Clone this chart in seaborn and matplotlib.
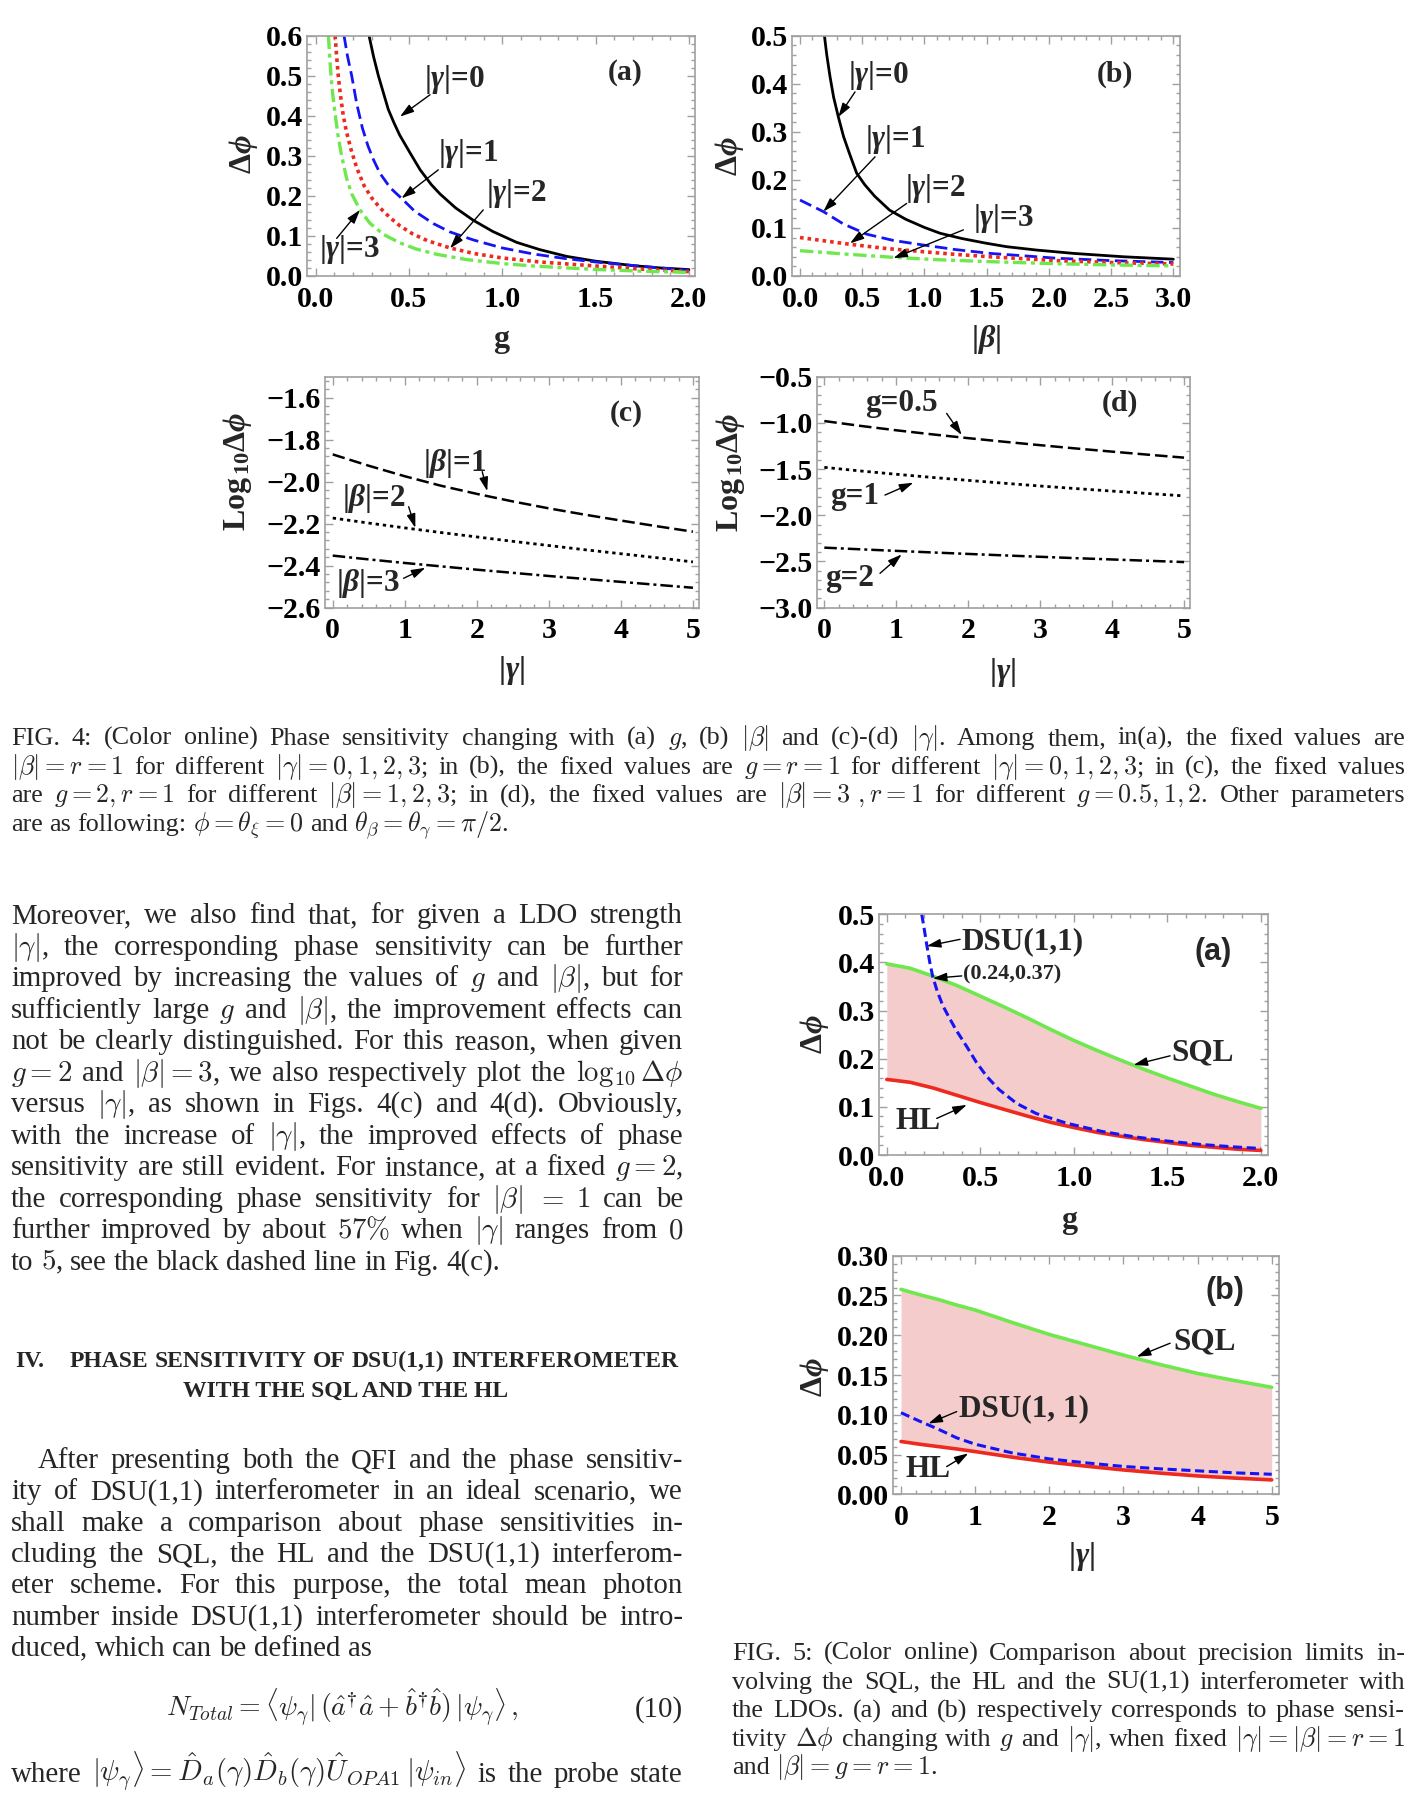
import re
import matplotlib
matplotlib.use('Agg')
import matplotlib.pyplot as plt
from matplotlib.ticker import MultipleLocator, FuncFormatter
from matplotlib.transforms import IdentityTransform
import seaborn as sns

# ---------------- data ----------------
# Fig 4(a): delta phi vs g for |gamma| = 0,1,2,3
g_a0 = [0.286, 0.31, 0.336, 0.36, 0.389, 0.42, 0.45, 0.505, 0.56, 0.62, 0.666, 0.75,
        0.845, 0.95, 1.077, 1.2, 1.345, 1.5, 1.7, 1.85, 2.0]
d_a0 = [0.600, 0.548, 0.500, 0.462, 0.416, 0.382, 0.352, 0.308, 0.265, 0.228, 0.205, 0.170,
        0.139, 0.111, 0.084, 0.066, 0.049, 0.037, 0.026, 0.020, 0.016]
g_a1 = [0.152, 0.17, 0.193, 0.22, 0.25, 0.28, 0.31, 0.345, 0.4, 0.46, 0.53, 0.63, 0.72,
        0.845, 1.0, 1.166, 1.33, 1.52, 1.75, 2.0]
d_a1 = [0.600, 0.550, 0.500, 0.430, 0.370, 0.325, 0.290, 0.256, 0.220, 0.194, 0.162, 0.131, 0.110,
        0.090, 0.070, 0.055, 0.044, 0.034, 0.024, 0.014]
g_a2 = [0.104, 0.112, 0.121, 0.133, 0.148, 0.165, 0.19, 0.22, 0.26, 0.3, 0.345, 0.4, 0.452,
        0.52, 0.6, 0.72, 0.85, 1.0, 1.2, 1.5, 1.75, 2.0]
d_a2 = [0.600, 0.550, 0.500, 0.450, 0.400, 0.360, 0.315, 0.270, 0.225, 0.195, 0.170, 0.145, 0.125,
        0.105, 0.088, 0.070, 0.056, 0.045, 0.035, 0.025, 0.017, 0.011]
g_a3 = [0.068, 0.075, 0.082, 0.092, 0.104, 0.12, 0.139, 0.165, 0.193, 0.2375, 0.29, 0.3625,
        0.45, 0.541, 0.65, 0.809, 1.0, 1.166, 1.35, 1.52, 1.75, 2.0]
d_a3 = [0.600, 0.550, 0.500, 0.450, 0.405, 0.350, 0.300, 0.245, 0.205, 0.165, 0.132, 0.104,
        0.083, 0.067, 0.054, 0.041, 0.031, 0.025, 0.020, 0.016, 0.012, 0.009]

# Fig 4(b): delta phi vs |beta|
b_b0 = [0.196, 0.215, 0.241, 0.27, 0.308, 0.35, 0.4, 0.455, 0.52, 0.6, 0.72, 0.85, 1.0,
        1.125, 1.3, 1.5, 1.66, 1.9, 2.2, 2.6, 3.0]
d_b0 = [0.500, 0.460, 0.415, 0.372, 0.331, 0.290, 0.253, 0.214, 0.190, 0.166, 0.137, 0.118, 0.101,
        0.089, 0.078, 0.068, 0.061, 0.054, 0.047, 0.040, 0.035]
b_b1 = [0.0, 0.1875, 0.35, 0.536, 0.75, 0.99, 1.25, 1.53, 1.8, 2.06, 2.5, 3.0]
d_b1 = [0.158, 0.134, 0.108, 0.087, 0.074, 0.0645, 0.055, 0.047, 0.042, 0.037, 0.032, 0.028]
b_b2 = [0.0, 0.4, 0.7, 0.99, 1.25, 1.53, 2.06, 2.5, 3.0]
d_b2 = [0.080, 0.066, 0.057, 0.0506, 0.045, 0.040, 0.032, 0.028, 0.025]
b_b3 = [0.0, 0.4, 0.75, 1.1, 1.53, 2.0, 2.5, 3.0]
d_b3 = [0.0527, 0.045, 0.0388, 0.034, 0.0298, 0.026, 0.023, 0.021]

# Fig 4(c)/(d): log10 delta phi vs |gamma|
gam = [0.0, 0.5, 1.0, 1.5, 2.0, 2.5, 3.0, 3.5, 4.0, 4.5, 5.0]
c_beta1 = [-1.870, -1.924, -1.974, -2.019, -2.058, -2.094, -2.127, -2.157, -2.185, -2.212, -2.238]
c_beta2 = [-2.173, -2.197, -2.220, -2.242, -2.263, -2.284, -2.304, -2.324, -2.343, -2.362, -2.382]
c_beta3 = [-2.352, -2.370, -2.387, -2.403, -2.419, -2.434, -2.449, -2.463, -2.477, -2.491, -2.505]
d_g05 = [-0.980, -1.032, -1.080, -1.124, -1.165, -1.204, -1.241, -1.277, -1.311, -1.344, -1.376]
d_g1 = [-1.481, -1.520, -1.556, -1.590, -1.622, -1.653, -1.683, -1.711, -1.738, -1.764, -1.790]
d_g2 = [-2.350, -2.368, -2.385, -2.402, -2.418, -2.434, -2.449, -2.464, -2.478, -2.492, -2.506]

# Fig 5(a): SQL, HL, DSU(1,1) vs g
g5 = [0.0, 0.125, 0.25, 0.375, 0.5, 0.625, 0.75, 0.875, 1.0, 1.125, 1.25, 1.375, 1.5,
      1.625, 1.75, 1.875, 2.0]
sql_a = [0.397, 0.388, 0.371, 0.352, 0.330, 0.308, 0.285, 0.261, 0.238, 0.217, 0.197, 0.178,
         0.160, 0.143, 0.126, 0.111, 0.097]
hl_a = [0.157, 0.151, 0.139, 0.124, 0.109, 0.095, 0.081, 0.068, 0.057, 0.047, 0.039, 0.032,
        0.026, 0.020, 0.016, 0.012, 0.0095]
g5_dsu = [0.187, 0.2, 0.214, 0.23, 0.246, 0.27, 0.3, 0.33, 0.37, 0.428, 0.48, 0.535, 0.6,
          0.695, 0.8, 0.9626, 1.15, 1.32, 1.5, 1.676, 1.85, 2.0]
dsu_a = [0.500, 0.470, 0.436, 0.400, 0.370, 0.340, 0.310, 0.288, 0.260, 0.225, 0.192, 0.163,
         0.136, 0.107, 0.086, 0.066, 0.049, 0.038, 0.029, 0.022, 0.017, 0.0135]

# Fig 5(b): SQL, HL, DSU(1,1) vs |gamma|
gam5 = [0.0, 0.25, 0.5, 0.75, 1.0, 1.5, 2.0, 2.5, 3.0, 3.5, 4.0, 4.5, 5.0]
sql_b = [0.2577, 0.251, 0.245, 0.238, 0.2317, 0.216, 0.201, 0.188, 0.175, 0.163, 0.152, 0.143, 0.1345]
hl_b = [0.0664, 0.063, 0.060, 0.057, 0.0537, 0.0467, 0.0404, 0.0353, 0.0306, 0.0266, 0.0231, 0.0204, 0.0181]
dsu_b = [0.1026, 0.092, 0.082, 0.071, 0.063, 0.052, 0.0445, 0.0395, 0.035, 0.032, 0.0295, 0.027, 0.0252]

# ---------------- style ----------------
sns.set_style('white')
plt.rcParams.update({
    'mathtext.fontset': 'custom',
    'mathtext.rm': 'Liberation Serif:bold',
    'mathtext.it': 'Liberation Serif:italic:bold',
    'mathtext.bf': 'Liberation Serif:bold',
    'font.weight': 'bold',
    'axes.edgecolor': '#a0a0a0',
    'axes.linewidth': 1.2,
})
plt.rcParams['font.family'] = ['Liberation Serif', 'DejaVu Serif']

W, H = 1424, 1794
fig = plt.figure(figsize=(W / 100, H / 100), dpi=100)

BLUE = '#1414f5'
RED = '#ee2a1e'
GREEN = '#6fe84e'
PINK = '#f5cccc'


def box(l, t, r, b):
    return [l / W, 1 - b / H, (r - l) / W, (b - t) / H]


def fmt(d):
    def f(v, p):
        s = f'{v:.{d}f}'
        if float(s) == 0:
            s = s.lstrip('-')
        return s.replace('-', '\u2212')
    return FuncFormatter(f)


def frame(ax, xlim, ylim, xmaj, xmin, ymaj, ymin, xd, yd):
    ax.set_xlim(*xlim)
    ax.set_ylim(*ylim)
    ax.xaxis.set_major_locator(MultipleLocator(xmaj))
    ax.xaxis.set_minor_locator(MultipleLocator(xmin))
    ax.yaxis.set_major_locator(MultipleLocator(ymaj))
    ax.yaxis.set_minor_locator(MultipleLocator(ymin))
    ax.xaxis.set_major_formatter(fmt(xd))
    ax.yaxis.set_major_formatter(fmt(yd))
    ax.tick_params(which='both', direction='in', top=True, right=True, bottom=True, left=True,
                   color='#a0a0a0', width=1, labelsize=21.5, labelcolor='black')
    ax.tick_params(which='major', length=6)
    ax.tick_params(which='minor', length=3)
    ax.tick_params(axis='x', pad=7)
    ax.tick_params(axis='y', pad=3)


def labels(ax, xl, yl, xpos, ypos, size=23):
    ax.set_xlabel(xl, fontsize=size, fontweight='bold')
    ax.set_ylabel(yl, fontsize=size, fontweight='bold')
    ax.xaxis.set_label_coords(*xpos)
    ax.yaxis.set_label_coords(*ypos)
    ax.xaxis.label.set_va('center')
    ax.yaxis.label.set_va('center')


def note(ax, s, pos, tail, tip, size=22.5, ha='center', **kw):
    ax.text(pos[0], pos[1], s, fontsize=size, ha=ha, va='center', fontweight='bold', **kw)
    ax.annotate('', xy=tip, xytext=tail,
                arrowprops=dict(arrowstyle='-|>,head_length=0.7,head_width=0.22', color='black',
                                lw=1.0, shrinkA=0, shrinkB=0, mutation_scale=12))


def line(ax, x, y, color, ls, lw):
    sns.lineplot(x=x, y=y, ax=ax, color=color, linestyle=ls, linewidth=lw,
                 errorbar=None, sort=False)


DASH = (0, (4.5, 2))
DOT = (0, (1.0, 1.1))
DASHDOT = (0, (4, 1.4, 1.2, 1.4))

# ---------------- Fig 4(a) ----------------
ax = fig.add_axes(box(307.3, 35.7, 695, 276))
line(ax, g_a0, d_a0, 'black', '-', 2.0)
line(ax, g_a1, d_a1, BLUE, DASH, 2.0)
line(ax, g_a2, d_a2, RED, DOT, 2.6)
line(ax, g_a3, d_a3, GREEN, DASHDOT, 2.4)
frame(ax, (-0.045, 2.033), (0, 0.6), 0.5, 0.1, 0.1, 0.02, 1, 1)
labels(ax, 'g', 'Δ$\\phi$', (0.5, -0.266), (-0.165, 0.508))
note(ax, r'$|\gamma|$=0', (0.746, 0.49), (0.6125, 0.4525), (0.452, 0.398))
note(ax, r'$|\gamma|$=1', (0.818, 0.307), (0.657, 0.265), (0.46, 0.194))
note(ax, r'$|\gamma|$=2', (1.077, 0.205), (0.898, 0.165), (0.72, 0.069))
note(ax, r'$|\gamma|$=3', (0.184, 0.065), (0.1125, 0.094), (0.2375, 0.165))
ax.text(1.657, 0.507, '(a)', fontsize=21.5, ha='center', va='center')

# ---------------- Fig 4(b) ----------------
ax = fig.add_axes(box(792.3, 35.7, 1180.3, 276))
line(ax, b_b0, d_b0, 'black', '-', 2.0)
line(ax, b_b1, d_b1, BLUE, DASH, 2.0)
line(ax, b_b2, d_b2, RED, DOT, 2.6)
line(ax, b_b3, d_b3, GREEN, DASHDOT, 2.4)
frame(ax, (-0.062, 3.056), (0, 0.5), 0.5, 0.1, 0.1, 0.02, 1, 1)
labels(ax, r'$|\beta|$', 'Δ$\\phi$', (0.499, -0.266), (-0.163, 0.5))
note(ax, r'$|\gamma|$=0', (0.63, 0.418), (0.442, 0.383), (0.308, 0.331))
note(ax, r'$|\gamma|$=1', (0.763, 0.283), (0.603, 0.248), (0.1875, 0.134))
note(ax, r'$|\gamma|$=2', (1.085, 0.182), (0.857, 0.151), (0.402, 0.068))
note(ax, r'$|\gamma|$=3', (1.634, 0.12), (1.313, 0.096), (0.75, 0.037))
ax.text(2.53, 0.42, '(b)', fontsize=21.5, ha='center', va='center')

# ---------------- Fig 4(c) ----------------
ax = fig.add_axes(box(325.3, 376.7, 699, 607.7))
line(ax, gam, c_beta1, 'black', (0, (5, 2)), 1.8)
line(ax, gam, c_beta2, 'black', (0, (1.2, 1.4)), 2.0)
line(ax, gam, c_beta3, 'black', (0, (5, 1.6, 1.2, 1.6)), 1.8)
frame(ax, (-0.103, 5.084), (-2.6, -1.5), 1, 0.2, 0.2, 0.04, 0, 1)
labels(ax, r'$|\gamma|$', r'Log$_{\,10}$Δ$\phi$', (0.497, -0.274), (-0.234, 0.59))
note(ax, r'$|\beta|$=1', (1.70, -1.913), (2.075, -1.952), (2.145, -2.045))
note(ax, r'$|\beta|$=2', (0.566, -2.079), (1.054, -2.119), (1.147, -2.22))
note(ax, r'$|\beta|$=3', (0.497, -2.484), (0.984, -2.46), (1.286, -2.41))
ax.text(4.07, -1.675, '(c)', fontsize=21.5, ha='center', va='center')

# ---------------- Fig 4(d) ----------------
ax = fig.add_axes(box(816.7, 376.7, 1190, 607.7))
line(ax, gam, d_g05, 'black', (0, (5, 2)), 1.8)
line(ax, gam, d_g1, 'black', (0, (1.2, 1.4)), 2.0)
line(ax, gam, d_g2, 'black', (0, (5, 1.6, 1.2, 1.6)), 1.8)
frame(ax, (-0.106, 5.083), (-3.0, -0.5), 1, 0.2, 0.5, 0.1, 0, 1)
labels(ax, r'$|\gamma|$', r'Log$_{\,10}$Δ$\phi$', (0.499, -0.28), (-0.232, 0.587))
note(ax, 'g=0.5', (1.075, -0.789), (1.70, -0.897), (1.909, -1.131))
note(ax, 'g=1', (0.426, -1.799), (0.843, -1.781), (1.237, -1.647))
note(ax, 'g=2', (0.357, -2.683), (0.774, -2.628), (1.075, -2.423))
ax.text(4.11, -0.789, '(d)', fontsize=21.5, ha='center', va='center')

# ---------------- Fig 5(a) ----------------
ax = fig.add_axes(box(879.3, 914.3, 1268.3, 1155))
ax.fill_between(g5, hl_a, sql_a, color=PINK, linewidth=0)
line(ax, g5, sql_a, GREEN, '-', 2.6)
line(ax, g5, hl_a, RED, '-', 2.6)
line(ax, g5_dsu, dsu_a, BLUE, (0, (3, 1.5)), 2.2)
frame(ax, (-0.04, 2.04), (0, 0.5), 0.5, 0.1, 0.1, 0.02, 1, 1)
labels(ax, 'g', 'Δ$\\phi$', (0.489, -0.272), (-0.167, 0.5))
note(ax, 'DSU(1,1)', (0.401, 0.443), (0.392, 0.448), (0.214, 0.434), ha='left')
note(ax, '(0.24,0.37)', (0.41, 0.374), (0.401, 0.372), (0.246, 0.367), size=16, ha='left')
note(ax, 'SQL', (1.524, 0.211), (1.515, 0.206), (1.319, 0.187), ha='left')
note(ax, 'HL', (0.169, 0.069), (0.267, 0.076), (0.428, 0.104))
ax.text(1.747, 0.422, '(a)', fontsize=22, ha='center', va='center', family='Liberation Sans')

# ---------------- Fig 5(b) ----------------
ax = fig.add_axes(box(893.3, 1255.7, 1279, 1494.3))
ax.fill_between(gam5, hl_b, sql_b, color=PINK, linewidth=0)
line(ax, gam5, sql_b, GREEN, '-', 2.6)
line(ax, gam5, hl_b, RED, '-', 2.6)
line(ax, gam5, dsu_b, BLUE, (0, (3, 1.5)), 2.2)
frame(ax, (-0.104, 5.098), (0, 0.30), 1, 0.2, 0.05, 0.01, 0, 2)
labels(ax, r'$|\gamma|$', 'Δ$\\phi$', (0.489, -0.262), (-0.205, 0.49))
note(ax, 'SQL', (3.674, 0.192), (3.63, 0.19), (3.18, 0.173), ha='left')
note(ax, 'DSU(1, 1)', (0.787, 0.108), (0.751, 0.104), (0.369, 0.089), ha='left')
note(ax, 'HL', (0.369, 0.0306), (0.616, 0.0348), (0.908, 0.0515))
ax.text(4.37, 0.255, '(b)', fontsize=22, ha='center', va='center', family='Liberation Sans')

# ---------------- page text ----------------
renderer = fig.canvas.get_renderer()
ID = IdentityTransform()


def text_line(s, x0, x1, yb, size, justify=True, weight='normal'):
    toks = re.findall(r'(?:\$[^$]*\$|\S)+', s)
    arts = [fig.text(0, 0, t, transform=ID, fontsize=size, fontweight=weight,
                     math_fontfamily='cm', ha='left', va='baseline') for t in toks]
    for _ in range(8):
        widths = [a.get_window_extent(renderer).width for a in arts]
        space = size * 100 / 72 * 0.25
        if justify and len(arts) > 1:
            gap = (x1 - x0 - sum(widths)) / (len(arts) - 1)
            if gap < 0.6 * space:
                size *= 0.97
                for a in arts:
                    a.set_fontsize(size)
                continue
        else:
            gap = space
        break
    x = x0
    for a, w in zip(arts, widths):
        a.set_position((x, H - yb))
        x += w + gap


def paragraph(lines, x0, x1, y0, step, size, indent=0):
    for i, s in enumerate(lines):
        last = i == len(lines) - 1
        text_line(s, x0 + (indent if i == 0 else 0), x1, y0 + i * step, size, justify=not last)


cap4 = [
    r'FIG. 4: (Color online) Phase sensitivity changing with (a) $g$, (b) $|\beta|$ and (c)-(d) $|\gamma|$. Among them, in(a), the fixed values are',
    r'$|\beta|=r=1$ for different $|\gamma|=0,1,2,3$; in (b), the fixed values are $g=r=1$ for different $|\gamma|=0,1,2,3$; in (c), the fixed values',
    r'are $g=2,r=1$ for different $|\beta|=1,2,3$; in (d), the fixed values are $|\beta|=3\ ,r=1$ for different $g=0.5,1,2$. Other parameters',
    r'are as following: $\phi=\theta_{\xi}=0$ and $\theta_{\beta}=\theta_{\gamma}=\pi/2$.',
]
paragraph(cap4, 11, 1405, 745, 28.6, 18.8)

body1 = [
    r'Moreover, we also find that, for given a LDO strength',
    r'$|\gamma|$, the corresponding phase sensitivity can be further',
    r'improved by increasing the values of $g$ and $|\beta|$, but for',
    r'sufficiently large $g$ and $|\beta|$, the improvement effects can',
    r'not be clearly distinguished. For this reason, when given',
    r'$g=2$ and $|\beta|=3$, we also respectively plot the $\log_{10}\Delta\phi$',
    r'versus $|\gamma|$, as shown in Figs. 4(c) and 4(d). Obviously,',
    r'with the increase of $|\gamma|$, the improved effects of phase',
    r'sensitivity are still evident. For instance, at a fixed $g=2$,',
    r'the corresponding phase sensitivity for $|\beta|$ $=$ $1$ can be',
    r'further improved by about $57\%$ when $|\gamma|$ ranges from $0$',
    r'to $5$, see the black dashed line in Fig. 4(c).',
]
paragraph(body1, 11, 683, 923, 31.5, 20.8)

fig.text(15, H - 1367, 'IV.', transform=ID, fontsize=17, fontweight='bold', ha='left', va='baseline')
text_line('PHASE SENSITIVITY OF DSU(1,1) INTERFEROMETER', 70, 678, 1367, 17, weight='bold')
fig.text(346, H - 1397, 'WITH THE SQL AND THE HL', transform=ID, fontsize=17, fontweight='bold',
         ha='center', va='baseline')

body2 = [
    r'After presenting both the QFI and the phase sensitiv-',
    r'ity of DSU(1,1) interferometer in an ideal scenario, we',
    r'shall make a comparison about phase sensitivities in-',
    r'cluding the SQL, the HL and the DSU(1,1) interferom-',
    r'eter scheme. For this purpose, the total mean photon',
    r'number inside DSU(1,1) interferometer should be intro-',
    r'duced, which can be defined as',
]
paragraph(body2, 11, 683, 1468, 31.3, 20.8, indent=27)

fig.text(166, H - 1717,
         r'$N_{Total}=\langle\psi_{\gamma}|\,(\hat{a}^{\dagger}\hat{a}+\hat{b}^{\dagger}\hat{b})\,|\psi_{\gamma}\rangle\,,$',
         transform=ID, fontsize=20, fontweight='normal', math_fontfamily='cm', ha='left', va='baseline')
fig.text(683, H - 1717, '(10)', transform=ID, fontsize=20.8, fontweight='normal', ha='right', va='baseline')
text_line(r'where $|\psi_{\gamma}\rangle=\hat{D}_{a}(\gamma)\hat{D}_{b}(\gamma)\hat{U}_{OPA1}\,|\psi_{in}\rangle$ is the probe state',
          11, 683, 1782, 20.8)

cap5 = [
    r'FIG. 5: (Color online) Comparison about precision limits in-',
    r'volving the SQL, the HL and the SU(1,1) interferometer with',
    r'the LDOs. (a) and (b) respectively corresponds to phase sensi-',
    r'tivity $\Delta\phi$ changing with $g$ and $|\gamma|$, when fixed $|\gamma|=|\beta|=r=1$',
    r'and $|\beta|=g=r=1$.',
]
paragraph(cap5, 732, 1405, 1660, 28.6, 18.8)

fig.savefig('out.png', dpi=100)
